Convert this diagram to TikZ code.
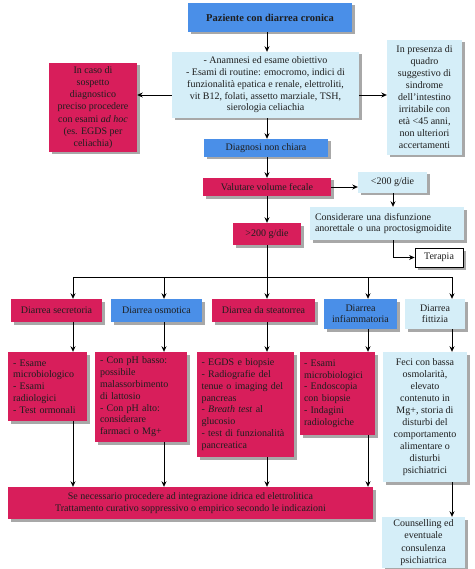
\documentclass[tikz,border=0pt]{standalone}
\usepackage{fontspec}
\setmainfont{Liberation Serif}
\usetikzlibrary{arrows.meta,shadows}
\definecolor{rosso}{HTML}{D81E5B}
\definecolor{blu}{HTML}{4A8FE8}
\definecolor{celeste}{HTML}{D5EEF8}
\definecolor{ombra}{HTML}{A8A8A8}
\definecolor{testo}{HTML}{1E1E1E}
\begin{document}
\begin{tikzpicture}[x=1pt,y=-1pt,
  base/.style={inner sep=0pt, inner xsep=5pt, text=testo,
    font=\fontsize{10}{11.8}\selectfont,
    drop shadow={shadow xshift=2.5pt, shadow yshift=-2.5pt, fill=ombra, opacity=1}},
  rbox/.style={base, fill=rosso},
  bbox/.style={base, fill=blu},
  cbox/.style={base, fill=celeste},
  arr/.style={-{Stealth[length=5.5pt,width=5pt]}, line width=0.8pt},
  ln/.style={line width=0.8pt}]
\useasboundingbox (0,0) rectangle (474,569);
\fill[white] (0,0) rectangle (474,569);

% column coordinates
\coordinate (c0) at (267,0);
\coordinate (cx) at (393,0);
\coordinate (ay) at (0,95);
\coordinate (c1) at (73,277);
\coordinate (c2) at (164,277);
\coordinate (c3) at (267,277);
\coordinate (c4) at (368,277);
\coordinate (c5) at (452,277);

% top part
\node[bbox, minimum width=164pt, minimum height=29pt, font=\fontsize{10.5}{12}\selectfont\bfseries] (top) at (270,17.5) {Paziente con diarrea cronica};
\node[cbox, minimum width=187pt, minimum height=66pt, align=center] (anam) at (265.5,85)
  {- Anamnesi ed esame obiettivo\\ - Esami di routine: emocromo, indici di\\ funzionalità epatica e renale, elettroliti,\\ vit B12, folati, assetto marziale, TSH,\\ sierologia celiachia};
\node[rbox, minimum width=88pt, minimum height=89pt, align=center, font=\fontsize{10}{12.3}\selectfont] (left) at (93,107.5)
  {In caso di\\ sospetto\\ diagnostico\\ preciso procedere\\ con esami \textit{ad hoc}\\ (es. EGDS per\\ celiachia)};
\node[cbox, minimum width=75pt, minimum height=115pt, align=center, font=\fontsize{10}{12}\selectfont] (right) at (424.5,97.5)
  {In presenza di\\ quadro\\ suggestivo di\\ sindrome\\ dell'intestino\\ irritabile con\\ età <45 anni,\\ non ulteriori\\ accertamenti};
\node[bbox, minimum width=124pt, minimum height=18pt] (diag) at (266,148) {Diagnosi non chiara};
\node[rbox, minimum width=128pt, minimum height=18pt] (valut) at (267,187) {Valutare volume fecale};
\node[cbox, minimum width=69pt, minimum height=21pt] (lt200) at (392.5,182.5) {<200 g/die};
\node[cbox, minimum width=154pt, minimum height=33pt, text width=144pt, align=left] (consid) at (387,223.5)
  {Considerare una disfunzione\\ anorettale o una proctosigmoidite};
\node[rbox, minimum width=68pt, minimum height=22pt] (gt200) at (267,234) {>200 g/die};
\node[base, drop shadow={opacity=0}, draw=black, line width=0.8pt, fill=white, minimum width=48pt, minimum height=19pt] (terapia) at (439,257.5) {Terapia};

% row of diarrhoea types
\node[rbox, minimum width=91pt, minimum height=23pt] (sec) at (56.5,310.5) {Diarrea secretoria};
\node[bbox, minimum width=91pt, minimum height=23pt] (osm) at (156.5,310.5) {Diarrea osmotica};
\node[rbox, minimum width=103pt, minimum height=23pt] (ste) at (263.5,310.5) {Diarrea da steatorrea};
\node[bbox, minimum width=73pt, minimum height=30pt, align=center, font=\fontsize{10}{11}\selectfont] (inf) at (360.5,314) {Diarrea\\ infiammatoria};
\node[cbox, minimum width=60pt, minimum height=30pt, align=center, font=\fontsize{10}{11}\selectfont] (fit) at (435,314) {Diarrea\\ fittizia};

% details
\node[rbox, minimum width=79pt, minimum height=69pt, text width=69pt, align=left] (d1) at (47.5,386.5)
  {- Esame\\ microbiologico\\ - Esami\\ radiologici\\ - Test ormonali};
\node[rbox, minimum width=92pt, minimum height=90pt, text width=82pt, align=left] (d2) at (141,397)
  {- Con pH basso:\\ possibile\\ malassorbimento\\ di lattosio\\ - Con pH alto:\\ considerare\\ farmaci o Mg+};
\node[rbox, minimum width=97pt, minimum height=105pt, text width=88pt, inner xsep=4.5pt, align=left] (d3) at (245.5,404.5)
  {- EGDS e biopsie\\ - Radiografie del\\ tenue o imaging del\\ pancreas\\ - \textit{Breath test} al\\ glucosio\\ - test di funzionalità\\ pancreatica};
\node[rbox, minimum width=75pt, minimum height=83pt, text width=67pt, inner xsep=4pt, align=left] (d4) at (337.5,393.5)
  {- Esami\\ microbiologici\\ - Endoscopia\\ con biopsie\\ - Indagini\\ radiologiche};
\node[cbox, minimum width=84pt, minimum height=130pt, align=center, font=\fontsize{10}{12}\selectfont] (d5) at (425,417)
  {Feci con bassa\\ osmolarità,\\ elevato\\ contenuto in\\ Mg+, storia di\\ disturbi del\\ comportamento\\ alimentare o\\ disturbi\\ psichiatrici};

\node[rbox, minimum width=365pt, minimum height=32pt, align=center] (big) at (190.5,503)
  {Se necessario procedere ad integrazione idrica ed elettrolitica\\ Trattamento curativo soppressivo o empirico secondo le indicazioni};
\node[cbox, minimum width=83pt, minimum height=51pt, align=center, font=\fontsize{10}{12.3}\selectfont] (couns) at (423.5,542.5)
  {Counselling ed\\ eventuale\\ consulenza\\ psichiatrica};

% connectors
\draw[arr] (top.south -| c0) -- (anam.north -| c0);
\draw[arr] (anam.west |- ay) -- (left.east |- ay);
\draw[arr] (anam.east |- ay) -- (right.west |- ay);
\draw[arr] (anam.south -| c0) -- (diag.north -| c0);
\draw[arr] (diag.south -| c0) -- (valut.north -| c0);
\draw[arr] (valut.east) -- (lt200.west |- valut.east);
\draw[arr] (lt200.south -| cx) -- (consid.north -| cx);
\draw[arr] (consid.south -| cx) |- (terapia.west);
\draw[arr] (valut.south -| c0) -- (gt200.north -| c0);
\draw[ln] (gt200.south -| c0) -- (c3);
\draw[ln] (c1) -- (c5);
\draw[arr] (c1) -- (sec.north -| c1);
\draw[arr] (c2) -- (osm.north -| c2);
\draw[arr] (c3) -- (ste.north -| c3);
\draw[arr] (c4) -- (inf.north -| c4);
\draw[arr] (c5) -- (fit.north -| c5);
\draw[arr] (sec.south -| c1) -- (d1.north -| c1);
\draw[arr] (osm.south -| c2) -- (d2.north -| c2);
\draw[arr] (ste.south -| c3) -- (d3.north -| c3);
\draw[arr] (inf.south -| c4) -- (d4.north -| c4);
\draw[arr] (fit.south -| c5) -- (d5.north -| c5);
\draw[arr] (d1.south -| c1) -- (big.north -| c1);
\draw[arr] (d2.south -| c2) -- (big.north -| c2);
\draw[arr] (d3.south -| c3) -- (big.north -| c3);
\draw[arr] (d4.south -| c4) -- (big.north -| c4);
\draw[arr] (d5.south -| c5) -- (couns.north -| c5);
\end{tikzpicture}
\end{document}
